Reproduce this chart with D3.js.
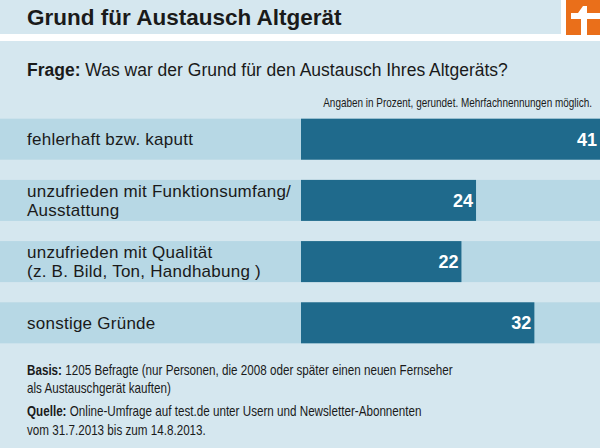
<!DOCTYPE html>
<html>
<head>
<meta charset="utf-8">
<script src="https://cdn.jsdelivr.net/npm/d3@7"></script>
<style>
  html, body { margin: 0; padding: 0; background: #fff; }
  svg { display: block; }
</style>
</head>
<body>
<script>
// ---- data ----
const categories = [
  ["fehlerhaft bzw. kaputt"],
  ["unzufrieden mit Funktionsumfang/", "Ausstattung"],
  ["unzufrieden mit Qualität", "(z. B. Bild, Ton, Handhabung )"],
  ["sonstige Gründe"]
];
const values = [41, 24, 22, 32];
const title = "Grund für Austausch Altgerät";
const questionLabel = "Frage:";
const questionText = " Was war der Grund für den Austausch Ihres Altgeräts?";
const note = "Angaben in Prozent, gerundet. Mehrfachnennungen möglich.";
const footer = [
  { bold: "Basis:", text: " 1205 Befragte (nur Personen, die 2008 oder später einen neuen Fernseher" },
  { bold: "", text: "als Austauschgerät kauften)" },
  { bold: "Quelle:", text: " Online-Umfrage auf test.de unter Usern und Newsletter-Abonnenten" },
  { bold: "", text: "vom 31.7.2013 bis  zum 14.8.2013." }
];

// ---- layout ----
const W = 600, H = 448;
const BG = "#d5e7ef", BAND = "#b7d8e5", BAR = "#1f6a8c", ORANGE = "#ea6f1a";
const SANS = "'Liberation Sans', Arial, Helvetica, sans-serif";

const svg = d3.select("body").append("svg").attr("width", W).attr("height", H);

svg.append("rect").attr("width", W).attr("height", H).attr("fill", BG);
// white separator under title
svg.append("rect").attr("x", 0).attr("y", 34).attr("width", W).attr("height", 7).attr("fill", "#fff");
// logo
svg.append("rect").attr("x", 561).attr("y", 0).attr("width", 39).attr("height", 41).attr("fill", "#fff");
svg.append("rect").attr("x", 566).attr("y", 0).attr("width", 34).attr("height", 35).attr("fill", ORANGE);
svg.append("path")
  .attr("d", "M571,13 L578,13 L583,6 L587,6 L587,13 L600,13 L600,19 L587,19 L587,35 L581,35 L581,19 L571,19 Z")
  .attr("fill", "#fff");

svg.append("text").attr("x", 27).attr("y", 25)
  .attr("font-family", SANS).attr("font-weight", "bold").attr("font-size", 22.5)
  .attr("fill", "#1a1a1a").text(title);

const q = svg.append("text").attr("x", 27).attr("y", 76)
  .attr("font-family", SANS).attr("font-size", 17.5).attr("fill", "#1a1a1a");
q.append("tspan").attr("font-weight", "bold").text(questionLabel);
q.append("tspan").text(questionText);

// condensed text helper: Liberation Sans squeezed horizontally
function condensed(x, yPos, size, anchor) {
  const g = svg.append("g").attr("transform", `translate(${x},${yPos})`);
  const t = g.append("text").attr("x", 0).attr("y", 0)
    .attr("font-family", SANS).attr("font-size", size).attr("fill", "#1a1a1a")
    .attr("text-anchor", anchor || "start");
  return { g, t };
}

const n = condensed(592, 107, 12, "end");
n.t.text(note);
const nw = n.t.node().getComputedTextLength();
n.g.attr("transform", `translate(592,107) scale(${269 / nw},1)`);

// scales
const idx = categories.map((d, i) => i);
const y = d3.scaleBand().domain(idx).range([118.7, 343.3]).paddingInner(0.33).paddingOuter(0);
const x = d3.scaleLinear().domain([0, d3.max(values)]).range([301, 600]);

const rows = svg.append("g").selectAll("g").data(idx).join("g");

rows.append("rect")
  .attr("x", 0).attr("y", i => y(i)).attr("width", W).attr("height", y.bandwidth())
  .attr("fill", BAND);

rows.append("rect")
  .attr("x", x(0)).attr("y", i => y(i))
  .attr("width", i => x(values[i]) - x(0)).attr("height", y.bandwidth())
  .attr("fill", BAR);

rows.append("text")
  .attr("x", i => x(values[i]) - 3)
  .attr("y", i => y(i) + y.bandwidth() / 2 + 6.5)
  .attr("text-anchor", "end")
  .attr("font-family", SANS).attr("font-weight", "bold").attr("font-size", 18)
  .attr("fill", "#fff")
  .text(i => values[i]);

rows.each(function(i) {
  const lines = categories[i];
  const lh = 19;
  const c = y(i) + y.bandwidth() / 2;
  const t = d3.select(this).append("text")
    .attr("font-family", SANS).attr("font-size", 17).attr("letter-spacing", 0.25)
    .attr("fill", "#1a1a1a");
  lines.forEach((ln, k) => {
    t.append("tspan").attr("x", 27)
      .attr("y", c + 6 + (k - (lines.length - 1) / 2) * lh)
      .text(ln);
  });
});

// footer
const fy = [375, 393, 416, 435];
const fItems = footer.map((f, k) => {
  const c = condensed(27, fy[k], 14);
  if (f.bold) c.t.append("tspan").attr("font-weight", "bold").text(f.bold);
  c.t.append("tspan").text(f.text);
  return c;
});
const sx = 426 / fItems[0].t.node().getComputedTextLength();
fItems.forEach((c, k) => c.g.attr("transform", `translate(27,${fy[k]}) scale(${sx},1)`));
</script>
</body>
</html>
